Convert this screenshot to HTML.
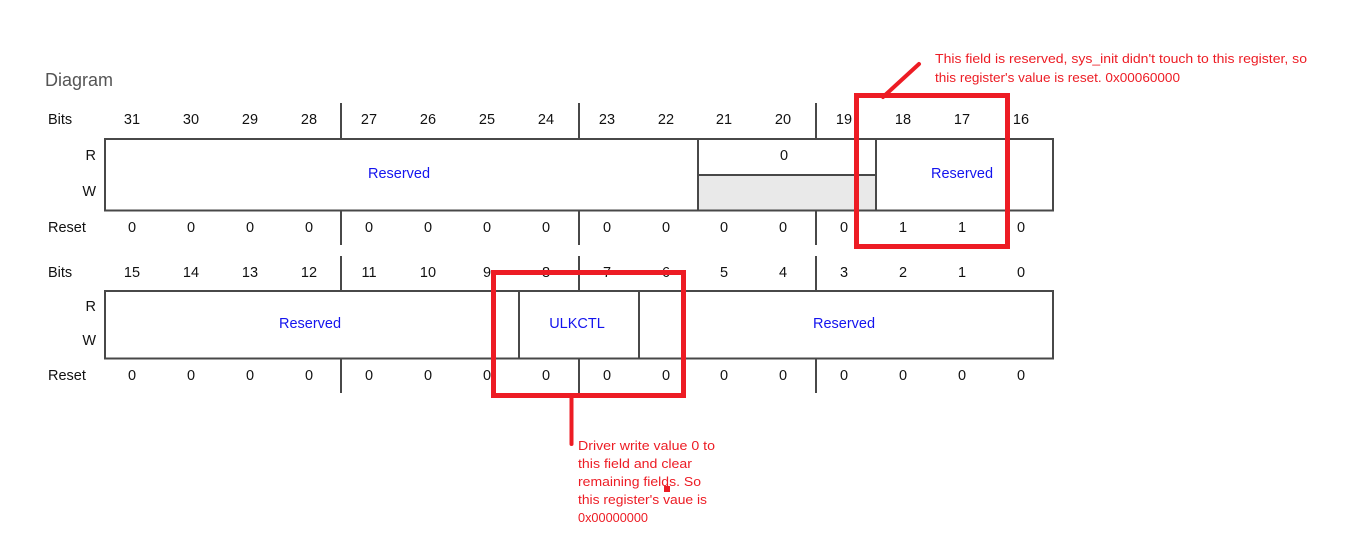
<!DOCTYPE html>
<html>
<head>
<meta charset="utf-8">
<style>
html,body{margin:0;padding:0;background:#fff;width:1367px;height:539px;overflow:hidden}
svg{display:block}
text{font-family:"Liberation Sans",sans-serif;font-size:14.500px;fill:#111}
.c{text-anchor:middle}
.e{text-anchor:end}
.b{fill:#1414ee}
.a{fill:#ed1c24;font-family:"Liberation Sans",sans-serif;font-size:13px}
.l{stroke:#484848;stroke-width:2;fill:none}
</style>
</head>
<body>
<svg width="1367" height="539" viewBox="0 0 1367 539" xmlns="http://www.w3.org/2000/svg">
<rect width="1367" height="539" fill="#fff"/>
<text x="45" y="86" style="font-size:18px;fill:#555">Diagram</text>

<!-- Top register -->
<rect x="698" y="175" width="178" height="35.500" fill="#e9e9e9"/>
<path class="l" d="M105 139H1053V210.500H105Z"/>
<path class="l" d="M698 139V210.500M876 139V210.500M698 175H876"/>
<path class="l" d="M341 103V139M579 103V139M816 103V139M341 211V245M579 211V245M816 211V245"/>

<text x="48" y="124">Bits</text>
<text class="c" x="132" y="124">31</text><text class="c" x="191" y="124">30</text><text class="c" x="250" y="124">29</text><text class="c" x="309" y="124">28</text>
<text class="c" x="369" y="124">27</text><text class="c" x="428" y="124">26</text><text class="c" x="487" y="124">25</text><text class="c" x="546" y="124">24</text>
<text class="c" x="607" y="124">23</text><text class="c" x="666" y="124">22</text><text class="c" x="724" y="124">21</text><text class="c" x="783" y="124">20</text>
<text class="c" x="844" y="124">19</text><text class="c" x="903" y="124">18</text><text class="c" x="962" y="124">17</text><text class="c" x="1021" y="124">16</text>
<text class="e" x="96" y="160">R</text>
<text class="e" x="96" y="196">W</text>
<text class="c" x="784" y="160">0</text>
<text class="c b" x="399" y="178">Reserved</text>
<text class="c b" x="962" y="178">Reserved</text>

<text x="48" y="232">Reset</text>
<text class="c" x="132" y="232">0</text><text class="c" x="191" y="232">0</text><text class="c" x="250" y="232">0</text><text class="c" x="309" y="232">0</text>
<text class="c" x="369" y="232">0</text><text class="c" x="428" y="232">0</text><text class="c" x="487" y="232">0</text><text class="c" x="546" y="232">0</text>
<text class="c" x="607" y="232">0</text><text class="c" x="666" y="232">0</text><text class="c" x="724" y="232">0</text><text class="c" x="783" y="232">0</text>
<text class="c" x="844" y="232">0</text><text class="c" x="903" y="232">1</text><text class="c" x="962" y="232">1</text><text class="c" x="1021" y="232">0</text>

<!-- Bottom register -->
<path class="l" d="M105 291H1053V358.500H105Z"/>
<path class="l" d="M519 291V358.500M639 291V358.500"/>
<path class="l" d="M341 256V291M579 256V291M816 256V291M341 359V393M579 359V393M816 359V393"/>

<text x="48" y="277">Bits</text>
<text class="c" x="132" y="277">15</text><text class="c" x="191" y="277">14</text><text class="c" x="250" y="277">13</text><text class="c" x="309" y="277">12</text>
<text class="c" x="369" y="277">11</text><text class="c" x="428" y="277">10</text><text class="c" x="487" y="277">9</text><text class="c" x="546" y="277">8</text>
<text class="c" x="607" y="277">7</text><text class="c" x="666" y="277">6</text><text class="c" x="724" y="277">5</text><text class="c" x="783" y="277">4</text>
<text class="c" x="844" y="277">3</text><text class="c" x="903" y="277">2</text><text class="c" x="962" y="277">1</text><text class="c" x="1021" y="277">0</text>
<text class="e" x="96" y="311">R</text>
<text class="e" x="96" y="345">W</text>
<text class="c b" x="310" y="328">Reserved</text>
<text class="c b" x="577" y="328">ULKCTL</text>
<text class="c b" x="844" y="328">Reserved</text>

<text x="48" y="380">Reset</text>
<text class="c" x="132" y="380">0</text><text class="c" x="191" y="380">0</text><text class="c" x="250" y="380">0</text><text class="c" x="309" y="380">0</text>
<text class="c" x="369" y="380">0</text><text class="c" x="428" y="380">0</text><text class="c" x="487" y="380">0</text><text class="c" x="546" y="380">0</text>
<text class="c" x="607" y="380">0</text><text class="c" x="666" y="380">0</text><text class="c" x="724" y="380">0</text><text class="c" x="783" y="380">0</text>
<text class="c" x="844" y="380">0</text><text class="c" x="903" y="380">0</text><text class="c" x="962" y="380">0</text><text class="c" x="1021" y="380">0</text>

<!-- Red annotations -->
<rect x="856.500" y="95.500" width="151" height="151" fill="none" stroke="#ed1c24" stroke-width="5"/>
<rect x="493.500" y="272.500" width="190" height="123" fill="none" stroke="#ed1c24" stroke-width="5"/>
<path d="M883 97L919 64" stroke="#ed1c24" stroke-width="4" stroke-linecap="round" fill="none"/>
<path d="M571.500 397V444" stroke="#ed1c24" stroke-width="4" stroke-linecap="round" fill="none"/>
<rect x="664" y="486" width="6" height="6" fill="#ed1c24"/>

<text class="a" x="935" y="63" textLength="372" lengthAdjust="spacingAndGlyphs">This field is reserved, sys_init didn't touch to this register, so</text>
<text class="a" x="935" y="82" textLength="245" lengthAdjust="spacingAndGlyphs">this register's value is reset. 0x00060000</text>
<text class="a" x="578" y="450" textLength="137" lengthAdjust="spacingAndGlyphs">Driver write value 0 to</text>
<text class="a" x="578" y="468" textLength="114" lengthAdjust="spacingAndGlyphs">this field and clear</text>
<text class="a" x="578" y="486" textLength="123" lengthAdjust="spacingAndGlyphs">remaining fields. So</text>
<text class="a" x="578" y="504" textLength="129" lengthAdjust="spacingAndGlyphs">this register's vaue is</text>
<text class="a" x="578" y="522" textLength="70" lengthAdjust="spacingAndGlyphs">0x00000000</text>
</svg>
</body>
</html>
